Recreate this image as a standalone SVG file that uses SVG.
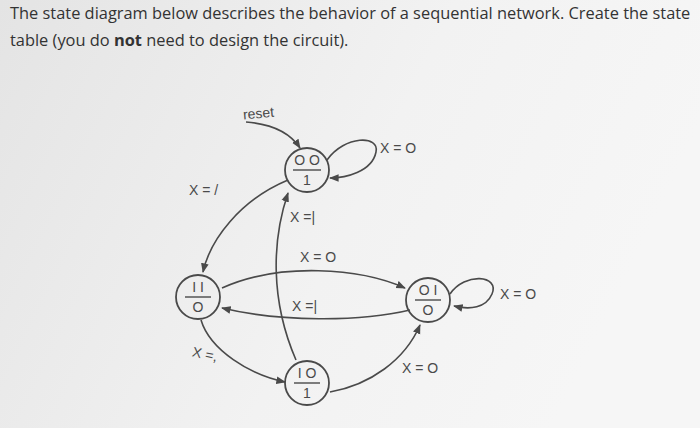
<svg xmlns="http://www.w3.org/2000/svg" width="700" height="428" viewBox="0 0 700 428">
<defs>
<linearGradient id="bg" x1="0" y1="0" x2="1" y2="0.3"><stop offset="0" stop-color="#e4e4e4"/><stop offset="0.6" stop-color="#f2f2f2"/><stop offset="1" stop-color="#f6f6f6"/></linearGradient>
<marker id="ah" viewBox="0 0 10 10" refX="9" refY="5" markerWidth="6" markerHeight="6" orient="auto"><path d="M0,1 L10,5 L0,9 z" fill="#4a4a4a"/></marker>
</defs>
<style>
.st{fill:none;stroke:#4a4a4a;stroke-width:1.8}
.e{fill:none;stroke:#4a4a4a;stroke-width:1.6;marker-end:url(#ah)}
.t{font-family:"Liberation Sans",Arial,sans-serif;fill:#4a4a4a;font-size:14px}
.h{font-family:"Open Sans","Liberation Sans",sans-serif;fill:#333;font-size:16.4px}
.bar{stroke:#4a4a4a;stroke-width:1.4}
</style>
<rect width="700" height="428" fill="url(#bg)"/>
<text class="h" x="10" y="19">The state diagram below describes the behavior of a sequential network.  Create the state</text>
<text class="h" x="10" y="46">table (you do <tspan font-weight="bold">not</tspan> need to design the circuit).</text>
<g id="connectors">
<path class="e" d="M246,122 Q285,125 300,148"/>
<path class="e" d="M327,160 C345,135 380,135 376,152 C372,172 345,178 330,178"/>
<path class="e" d="M288,180 C240,200 210,240 203,272"/>
<path class="e" d="M296,360 C270,300 272,240 288,193"/>
<path class="e" d="M222,288 C280,262 360,268 405,288"/>
<path class="e" d="M410,310 C360,322 280,322 222,308"/>
<path class="e" d="M450,294 C465,272 500,275 492,294 C486,308 470,310 454,306"/>
<path class="e" d="M201,320 C210,350 250,375 285,382"/>
<path class="e" d="M330,392 C370,385 405,360 420,325"/>
</g>
<g id="labels">
<text class="t" x="243" y="118" font-size="16" transform="rotate(-5 260 114)">reset</text>
<text class="t" x="380" y="153">X = O</text>
<text class="t" x="189" y="195">X = /</text>
<text class="t" x="290" y="222">X =|</text>
<text class="t" x="300" y="262">X = O</text>
<text class="t" x="292" y="311">X =|</text>
<text class="t" x="500" y="299">X = O</text>
<text class="t" x="192" y="359" transform="rotate(12 205 355)">X =,</text>
<text class="t" x="402" y="373">X = O</text>
</g>
<g id="s00"><circle class="st" cx="307" cy="170" r="22"/><text class="t" x="307" y="165" text-anchor="middle">O O</text><line class="bar" x1="293" y1="170" x2="321" y2="170"/><text class="t" x="307" y="185" text-anchor="middle">1</text></g>
<g id="s11"><circle class="st" cx="198" cy="297" r="22"/><text class="t" x="198" y="292" text-anchor="middle">I I</text><line class="bar" x1="185" y1="297" x2="211" y2="297"/><text class="t" x="198" y="312" text-anchor="middle">O</text></g>
<g id="s01"><circle class="st" cx="428" cy="300" r="22"/><text class="t" x="428" y="295" text-anchor="middle">O I</text><line class="bar" x1="415" y1="300" x2="441" y2="300"/><text class="t" x="428" y="315" text-anchor="middle">O</text></g>
<g id="s10"><circle class="st" cx="307" cy="383" r="22"/><text class="t" x="307" y="378" text-anchor="middle">I O</text><line class="bar" x1="294" y1="383" x2="320" y2="383"/><text class="t" x="307" y="398" text-anchor="middle">1</text></g>
</svg>
